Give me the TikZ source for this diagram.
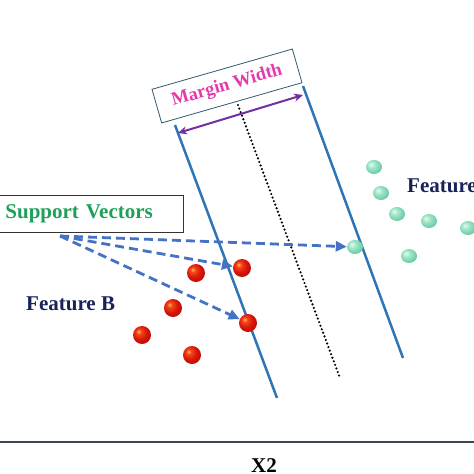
\documentclass[tikz,border=0pt]{standalone}
\usepackage{fontspec}
\setmainfont{Liberation Serif}
\usetikzlibrary{arrows.meta,shapes.geometric}
\definecolor{svblue}{RGB}{68,114,196}
\definecolor{lineblue}{RGB}{46,117,182}
\definecolor{mwpurple}{RGB}{112,48,160}
\definecolor{mwmagenta}{RGB}{228,58,172}
\definecolor{svgreen}{RGB}{30,160,90}
\definecolor{navytext}{RGB}{25,35,90}
\definecolor{axisgray}{RGB}{60,70,85}
\definecolor{boxedge}{RGB}{50,90,110}
\definecolor{rhl}{RGB}{255,190,90}
\definecolor{ror}{RGB}{245,70,25}
\definecolor{rred}{RGB}{215,20,8}
\definecolor{rdark}{RGB}{150,10,4}
\definecolor{rdarker}{RGB}{110,6,2}
\definecolor{ghl}{RGB}{225,252,238}
\definecolor{glight}{RGB}{160,230,200}
\definecolor{gmid}{RGB}{105,200,165}
\definecolor{gdark}{RGB}{60,150,120}
\definecolor{gdarker}{RGB}{45,125,100}
\pgfdeclareradialshading{redsph}{\pgfpoint{-10bp}{10bp}}{color(0bp)=(rhl); color(7bp)=(ror); color(20bp)=(rred); color(44bp)=(rdark); color(62bp)=(rdarker)}
\pgfdeclareradialshading{greensph}{\pgfpoint{-10bp}{10bp}}{color(0bp)=(ghl); color(12bp)=(glight); color(30bp)=(gmid); color(50bp)=(gdark); color(62bp)=(gdarker)}
\tikzset{
  redball/.style={circle,minimum size=18pt,inner sep=0pt,shading=redsph},
  greenball/.style={ellipse,minimum width=16pt,minimum height=14pt,inner sep=0pt,shading=greensph},
  hyper/.style={lineblue,line width=2.5pt},
  svarrow/.style={svblue,line width=2.8pt,dash pattern=on 9pt off 5pt,-{Triangle[length=11pt,width=10pt]}},
  boldlabel/.style={font=\fontsize{21}{25}\selectfont\bfseries,inner sep=0pt}
}
\begin{document}
\begin{tikzpicture}[x=1pt,y=-1pt]
\useasboundingbox (0,0) rectangle (474,474);
\fill[white] (0,0) rectangle (474,474);
% hyperplanes
\coordinate (l1) at (175,125); \coordinate (l2) at (277,398);
\coordinate (r1) at (303,86);  \coordinate (r2) at (403,358);
\coordinate (d1) at (238,105); \coordinate (d2) at (340,378);
\draw[hyper] (l1) -- (l2);
\draw[hyper] (r1) -- (r2);
\draw[black,line width=2.4pt,line cap=round,dash pattern=on 0pt off 3.8pt] (d1) -- (d2);
% margin box
\node[draw=boxedge,line width=0.8pt,rotate=16,minimum width=146pt,minimum height=35pt,inner sep=0pt,
      text=mwmagenta,font=\fontsize{18.5}{22}\selectfont\bfseries] (mw) at (227,86) {Margin Width};
\coordinate (ml) at (178,133); \coordinate (mr) at (303,95);
\draw[mwpurple,line width=2pt,{Stealth[length=9pt,width=8pt]}-{Stealth[length=9pt,width=8pt]}] (ml) -- (mr);
% red spheres
\node[redball] (ra) at (242,268) {};
\node[redball] (rb) at (196,273) {};
\node[redball] (rc) at (173,308) {};
\node[redball] (rd) at (248,323) {};
\node[redball] (re) at (142,335) {};
\node[redball] (rf) at (192,355) {};
% green spheres
\node[greenball] (ga) at (374,167) {};
\node[greenball] (gb) at (381,193) {};
\node[greenball] (gc) at (397,214) {};
\node[greenball] (gd) at (429,221) {};
\node[greenball] (ge) at (468,228) {};
\node[greenball] (gf) at (409,256) {};
\node[greenball] (gg) at (355,247) {};
% support vectors box
\node[draw=black!80,line width=0.9pt,anchor=west,minimum height=37pt,text width=170pt,align=left,
      inner xsep=8pt,inner ysep=0pt,text=svgreen,font=\fontsize{21}{25}\selectfont\bfseries]
      (sv) at (-3,214) {Support Vectors};
\coordinate (svo) at (60,236);
\draw[svarrow] (svo) -- (gg);
\draw[svarrow] (svo) -- (ra);
\draw[svarrow] (svo) -- (rd);
% labels
\node[boldlabel,text=navytext,anchor=west] (fa) at (407,186) {Feature};
\node[boldlabel,text=navytext,anchor=west] (fb) at (26,304) {Feature B};
% axis
\coordinate (ax1) at (0,442); \coordinate (ax2) at (474,442);
\draw[axisgray,line width=2.6pt] (ax1) -- (ax2);
\node[boldlabel,text=black] (x2) at (264,465.5) {X2};
\end{tikzpicture}
\end{document}
